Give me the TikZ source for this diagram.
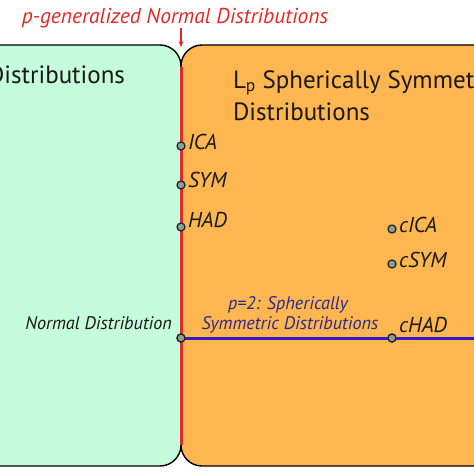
\documentclass[tikz,border=0pt]{standalone}
\usepackage{fontspec}
\setmainfont{PT Sans}
\usepackage{tikz}
\usetikzlibrary{arrows.meta,positioning}
\definecolor{gaussgreen}{RGB}{196,252,220}
\definecolor{lporange}{RGB}{253,182,80}
\definecolor{pgnred}{RGB}{228,40,40}
\definecolor{sphblue}{RGB}{52,28,196}
\definecolor{sphtext}{RGB}{44,40,140}
\definecolor{dotgray}{RGB}{140,158,156}

\begin{document}
\begin{tikzpicture}[x=1pt,y=-1pt,
  every node/.style={inner sep=0pt,outer sep=0pt},
  region/.style={draw=black,line width=1.4pt,rounded corners=21pt},
  dot/.style={circle,draw=black!85,fill=dotgray,line width=1.3pt,minimum size=8pt},
  lbl/.style={font=\fontsize{21.5}{23}\selectfont\itshape,text=black!90},
  head/.style={font=\fontsize{25}{32}\selectfont,text=black!90,align=left},
  pgnline/.style={pgnred,line width=3pt},
  sphline/.style={sphblue,line width=3pt}]
\useasboundingbox (0,0) rectangle (474,474);
\clip (0,0) rectangle (474,474);
%--- Regions ---
\draw[region,fill=gaussgreen] (-60,45) rectangle (181,466);
\draw[region,fill=lporange] (181,45) rectangle (540,466);
\coordinate (cusptop) at (181,67);
\coordinate (cuspbot) at (181,445);
\coordinate (rimtop) at (181,47);
\coordinate (rimend) at (480,338);
\draw[pgnline] (cusptop)--(cuspbot);
%--- Headings ---
\node[head,anchor=base east] (gauss) at (125,83) {Distributions};
\node[head,anchor=base west] (lpss) at (233,88) {L\textsubscript{p} Spherically Symmetric};
\node[head,anchor=base west] (lpss2) at (233,120) {Distributions};
\node[font=\fontsize{21.5}{23}\selectfont\itshape,text=pgnred,anchor=base] (pgn) at (175,23) {p-generalized Normal Distributions};
\draw[-{Stealth[length=6pt,width=5pt]},pgnred,line width=1.2pt] ([yshift=-5pt]pgn.base -| rimtop)--(rimtop);
%--- p=2 line ---
\node[dot] (nd) at (181,338) {};
\node[dot] (chad) at (392,338) {};
\draw[sphline] (nd)--(chad);
\draw[sphline] (chad)--(rimend);
\node[dot] at (nd) {};
\node[dot] at (chad) {};
\node[lbl,font=\fontsize{18.2}{20}\selectfont\itshape,anchor=east] (ndtxt) at (172,323) {Normal Distribution};
\node[lbl,font=\fontsize{18.2}{20}\selectfont\itshape,text=sphtext,anchor=base] (sph) at (288,309) {p=2: Spherically};
\node[lbl,font=\fontsize{18.2}{20}\selectfont\itshape,text=sphtext,anchor=base] (sph2) at (290,329) {Symmetric Distributions};
\node[lbl,right=3pt of chad,yshift=13pt] (chadtxt) {cHAD};
%--- Points on the red line ---
\node[dot] (ica) at (181,146) {};
\node[dot] (sym) at (181,185) {};
\node[dot] (had) at (181,227) {};
\node[lbl,right=3pt of ica,yshift=4pt] {ICA};
\node[lbl,right=3pt of sym,yshift=5pt] {SYM};
\node[lbl,right=3pt of had,yshift=7pt] {HAD};
%--- Points inside the Lp region ---
\node[dot] (cica) at (392,229) {};
\node[dot] (csym) at (392,264) {};
\node[lbl,right=3pt of cica,yshift=4pt] {cICA};
\node[lbl,right=3pt of csym,yshift=4pt] {cSYM};
\end{tikzpicture}
\end{document}
